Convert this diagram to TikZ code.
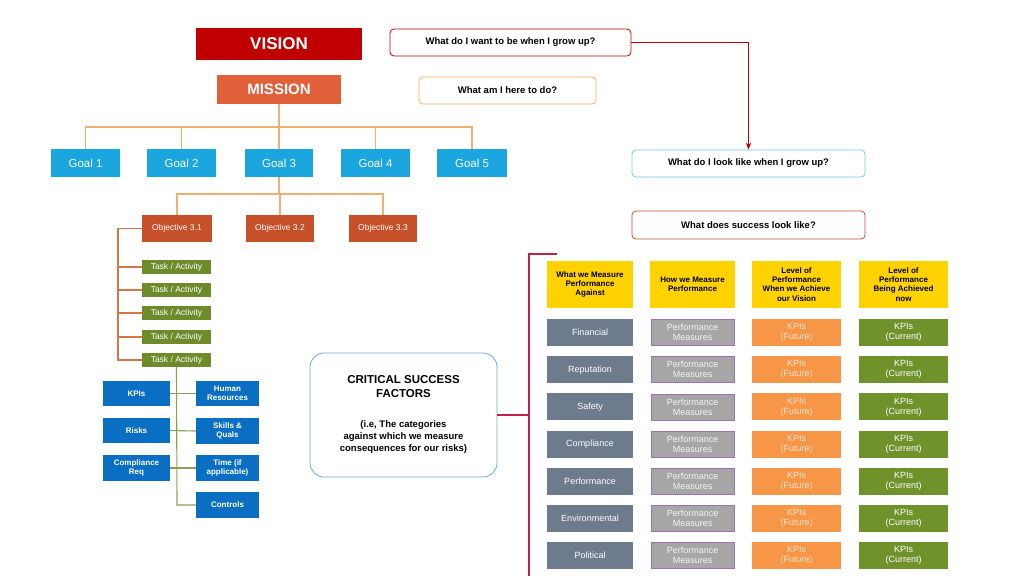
\documentclass[tikz,border=0pt]{standalone}
\usepackage{fontspec}
\setmainfont{Liberation Sans}
\usetikzlibrary{arrows.meta}
\definecolor{vis}{HTML}{C00000}
\definecolor{mis}{HTML}{E0603A}
\definecolor{goal}{HTML}{1BA6E0}
\definecolor{obj}{HTML}{C5502A}
\definecolor{task}{HTML}{6E8B2B}
\definecolor{blu}{HTML}{0A6FC2}
\definecolor{yel}{HTML}{FFD200}
\definecolor{slate}{HTML}{6D7B8D}
\definecolor{pm}{HTML}{A6A6A6}
\definecolor{pmb}{HTML}{A070B0}
\definecolor{kf}{HTML}{F79646}
\definecolor{kc}{HTML}{70922A}
\definecolor{orl}{HTML}{F0B070}
\definecolor{brk}{HTML}{C0204A}
\tikzset{
 bx/.style={inner sep=0pt,align=center,text=white},
 q/.style={draw,rounded corners=4pt,inner sep=0pt,fill=white,line width=0.8pt,font=\bfseries\fontsize{9.5}{11}\selectfont},
 ol/.style={draw=orl,line width=1.1pt},
 gl/.style={draw=task!80,line width=1.1pt},
 sm/.style={font=\fontsize{8.5}{9.5}\selectfont},
 smb/.style={font=\bfseries\fontsize{8}{9.2}\selectfont},
 tb/.style={font=\fontsize{9}{10}\selectfont},
}
\newcommand{\bxat}[6]{\node[bx,minimum width={(#3)-(#1)},minimum height={(#4)-(#2)},fill=#5,#6] at ({((#1)+(#3))/2},{((#2)+(#4))/2})}
\begin{document}
\begin{tikzpicture}[x=1pt,y=-1pt]
\useasboundingbox[fill=white] (0,0) rectangle (1024,576);
% top
\bxat{196}{28}{362}{60}{vis}{font=\bfseries\fontsize{17}{19}\selectfont} (vision) {VISION};
\bxat{217}{75}{341}{104}{mis}{font=\bfseries\fontsize{15}{17}\selectfont} (mission) {MISSION};
\node[q,draw=vis,minimum width=241,minimum height=27] (q1) at (510.5,42.5) {What do I want to be when I grow up?};
\node[q,draw=orl!90!orange,minimum width=177,minimum height=27] (q2) at (507.5,90.5) {What am I here to do?};
\node[q,draw=goal!60,minimum width=233,minimum height=27] (q3) at (748.5,163.5) {What do I look like when I grow up?};
\node[q,draw=obj,minimum width=233,minimum height=28] (q4) at (748.5,225) {What does success look like?};
\draw[vis,line width=0.9pt,-{Stealth[length=7pt]}] (q1.east) -| (q3.north);
% goals
\foreach \n/\a/\b in {1/51/120,2/147/216,3/245/313,4/341/410,5/437/507}{
 \bxat{\a}{149}{\b}{177}{goal}{font=\fontsize{11.5}{13}\selectfont} (g\n) {Goal \n};
}
\coordinate (mj) at (279,127);
\draw[ol] (mission.south) -- (mj);
\draw[ol] (g1.north) |- (mj) -| (g5.north);
\foreach \n in {2,3,4}{\draw[ol] (g\n.north) -- (g\n.north|-mj);}
% objectives
\foreach \n/\a/\b in {1/142/212,2/246/314,3/349/417}{
 \bxat{\a}{215}{\b}{242}{obj}{sm} (o\n) {Objective 3.\n};
}
\coordinate (gj) at (279,194);
\draw[ol] (g3.south) -- (gj);
\draw[ol] (o1.north) |- (gj) -| (o3.north);
\draw[ol] (o2.north) -- (o2.north|-gj);
% tasks
\foreach \n/\y in {1/267,2/290,3/313,4/337,5/360}{
 \bxat{142}{\y-7}{211}{\y+7}{task}{sm} (t\n) {Task / Activity};
}
\draw[ol,draw=obj!60!orl] (o1.west) -- (118,228.5) -- (118,360) -- (t5.west);
\foreach \n in {1,2,3,4}{\draw[ol,draw=obj!60!orl] (t\n.west) -- (118,0|-t\n.west);}
% blue boxes
\bxat{103}{381}{170}{406}{blu}{smb} (b1) {KPIs};
\bxat{103}{418}{170}{443}{blu}{smb} (b2) {Risks};
\bxat{103}{455}{170}{481}{blu}{smb} (b3) {Compliance\\Req};
\bxat{196}{381}{259}{406}{blu}{smb} (c1) {Human\\Resources};
\bxat{196}{418}{259}{444}{blu}{smb} (c2) {Skills \&\\Quals};
\bxat{196}{455}{259}{481}{blu}{smb} (c3) {Time (if\\applicable)};
\bxat{196}{492}{259}{518}{blu}{smb} (c4) {Controls};
\coordinate (tb) at (177,505);
\draw[gl] (t5.south) -- (tb) -- (c4.west);
\foreach \n in {1,2,3}{\draw[gl] (b\n.east) -- (c\n.west);}
% CSF
\node[draw=blu!60,line width=0.8pt,rounded corners=14pt,minimum width=187,minimum height=124,inner sep=0pt] (csf) at (403.5,415) {};
\node[align=center,font=\bfseries\fontsize{11.5}{14}\selectfont] (csft) at (403.5,387) {CRITICAL SUCCESS\\FACTORS};
\node[align=center,font=\bfseries\fontsize{9.5}{12}\selectfont] (csfs) at (403.5,437) {(i.e, The categories\\against which we measure\\consequences for our risks)};
\coordinate (bt) at (529,254);
\draw[brk,line width=1.4pt] (557,254) -- (bt) -- (529,576);
\draw[brk,line width=1.4pt] (csf.east) -- (529,0|-csf.east);
% table
\bxat{547}{261}{633}{308}{yel}{text=black,smb} (h1) {What we Measure\\Performance\\Against};
\bxat{650}{261}{735}{308}{yel}{text=black,smb} (h2) {How we Measure\\Performance};
\bxat{752}{261}{841}{308}{yel}{text=black,smb} (h3) {Level of\\Performance\\When we Achieve\\our Vision};
\bxat{859}{261}{948}{308}{yel}{text=black,smb} (h4) {Level of\\Performance\\Being Achieved\\now};
\foreach \n/\t in {0/Financial,1/Reputation,2/Safety,3/Compliance,4/Performance,5/Environmental,6/Political}{
 \pgfmathsetmacro\y{319+37.2*\n}
 \bxat{547}{\y}{633}{\y+27}{slate}{tb} (r\n) {\t};
 \bxat{651}{\y+0.5}{734}{\y+26.5}{pm}{draw=pmb,line width=0.7pt,text=white!92!gray,tb} (p\n) {Performance\\Measures};
 \bxat{752}{\y}{841}{\y+27}{kf}{text=white!75!kf,tb} (f\n) {KPIs\\(Future)};
 \bxat{859}{\y}{948}{\y+27}{kc}{tb} (k\n) {KPIs\\(Current)};
}
\end{tikzpicture}
\end{document}
